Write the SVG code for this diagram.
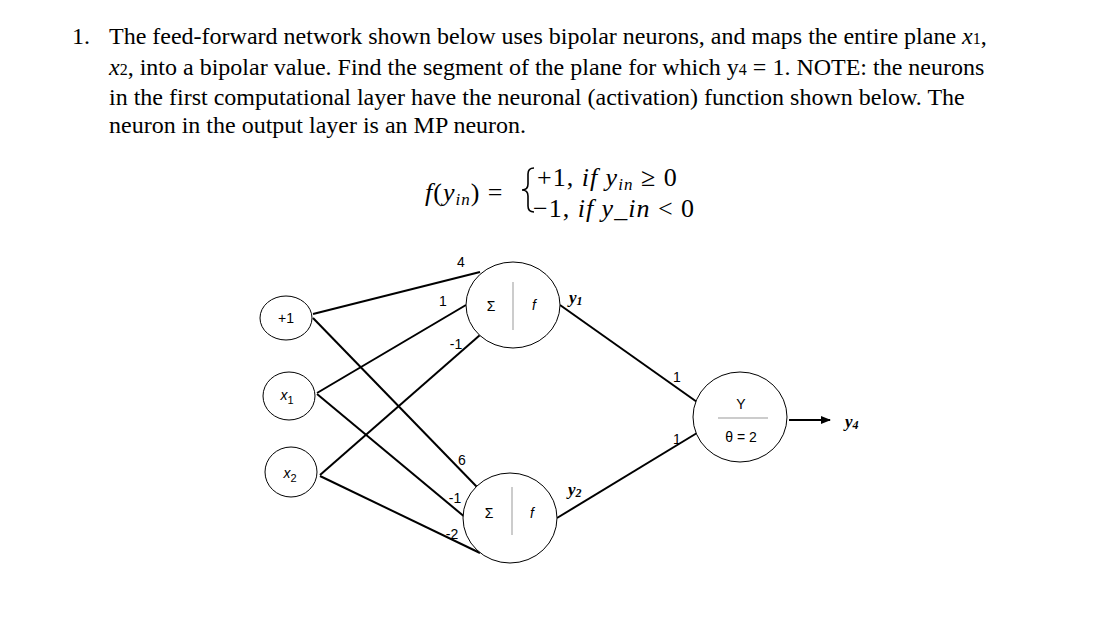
<svg xmlns="http://www.w3.org/2000/svg" width="1095" height="624" viewBox="0 0 1095 624">
<defs>
<style>
.t{font-family:"Liberation Serif",serif;font-size:24px;fill:#000}
.m{font-family:"Liberation Serif",serif;font-size:26px;font-style:italic;fill:#000}
.s{font-family:"Liberation Sans",sans-serif;font-size:14px;fill:#000;text-anchor:middle}
.n{fill:#fff;stroke:#000;stroke-width:1}
.c line{stroke:#000;stroke-width:2}
.d{stroke:#999;stroke-width:1}
</style>
<marker id="ah" markerWidth="10" markerHeight="8" refX="9" refY="4" orient="auto" markerUnits="userSpaceOnUse"><path d="M0,0L10,4L0,8z" fill="#000"/></marker>
</defs>
<rect width="1095" height="624" fill="#fff"/>
<text class="t" x="72" y="44">1.</text>
<text class="t" x="109" y="44">The feed-forward network shown below uses bipolar neurons, and maps the entire plane <tspan font-style="italic">x</tspan><tspan font-size="16">1</tspan>,</text>
<text class="t" x="109" y="75"><tspan font-style="italic">x</tspan><tspan font-size="16">2</tspan>, into a bipolar value. Find the segment of the plane for which y<tspan font-size="16">4</tspan> = 1. NOTE: the neurons</text>
<text class="t" x="109" y="105">in the first computational layer have the neuronal (activation) function shown below. The</text>
<text class="t" x="109" y="133">neuron in the output layer is an MP neuron.</text>
<text class="m" x="425" y="201" letter-spacing="1">f<tspan font-style="normal">(</tspan>y<tspan font-size="17" dy="4">in</tspan><tspan font-style="normal" dy="-4">) =</tspan></text>
<path d="M534,168 q-6,0 -6,6 v10 q0,6 -6,6 q6,0 6,6 v10 q0,6 6,6" fill="none" stroke="#000" stroke-width="1.6"/>
<text class="m" x="537" y="186" letter-spacing="1"><tspan font-style="normal">+1,</tspan> if  y<tspan font-size="17" dy="4">in</tspan><tspan font-style="normal" dy="-4"> ≥ 0</tspan></text>
<text class="m" x="533" y="217" letter-spacing="1"><tspan font-style="normal">−1,</tspan> if  y_in <tspan font-style="normal">&lt; 0</tspan></text>
<g class="c" id="connectors">
<line x1="313" y1="314" x2="480" y2="272"/>
<line x1="313" y1="318" x2="477" y2="487"/>
<line x1="317" y1="393" x2="466" y2="305"/>
<line x1="317" y1="394" x2="466" y2="518"/>
<line x1="320" y1="475" x2="480" y2="335"/>
<line x1="320" y1="476" x2="480" y2="553"/>
<line x1="560" y1="305" x2="697" y2="402"/>
<line x1="557" y1="518" x2="697" y2="433"/>
<line x1="789" y1="420" x2="830" y2="420" marker-end="url(#ah)"/>
</g>
<g class="s">
<text x="461" y="267">4</text>
<text x="443" y="306">1</text>
<text x="456" y="349">-1</text>
<text x="462" y="465">6</text>
<text x="455" y="503">-1</text>
<text x="452" y="539">-2</text>
<text x="677" y="382">1</text>
<text x="677" y="444">1</text>
</g>
<g id="n_plus1"><ellipse class="n" cx="286" cy="318" rx="26" ry="22"/><text class="s" x="286" y="323">+1</text></g>
<g id="n_x1"><ellipse class="n" cx="289" cy="396" rx="26" ry="24"/><text class="s" x="287" y="400" font-style="italic">x<tspan font-size="11" dy="4" font-style="normal">1</tspan></text></g>
<g id="n_x2"><ellipse class="n" cx="291" cy="472" rx="26" ry="25"/><text class="s" x="290" y="478" font-style="italic">x<tspan font-size="11" dy="4" font-style="normal">2</tspan></text></g>
<g id="n_h1"><ellipse class="n" cx="513" cy="305" rx="47" ry="43"/><line class="d" x1="513" y1="282" x2="513" y2="330"/><text class="s" x="491" y="311" font-family="Liberation Serif" font-size="17">Σ</text><text class="s" x="534" y="310" font-family="Liberation Serif" font-style="italic" font-size="18">f</text></g>
<g id="n_h2"><ellipse class="n" cx="510" cy="518" rx="47" ry="45"/><line class="d" x1="512" y1="487" x2="512" y2="535"/><text class="s" x="489" y="518" font-family="Liberation Serif" font-size="17">Σ</text><text class="s" x="532" y="518" font-family="Liberation Serif" font-style="italic" font-size="18">f</text></g>
<g id="n_out"><ellipse class="n" cx="740" cy="417" rx="47" ry="45"/><line class="d" x1="718" y1="418" x2="768" y2="418"/><text class="s" x="741" y="409">Y</text><text class="s" x="741" y="442">θ = 2</text></g>
<g font-family="Liberation Serif,serif" font-style="italic" font-weight="bold" font-size="17">
<text x="569" y="303">y<tspan font-size="12" dy="2">1</tspan></text>
<text x="568" y="495">y<tspan font-size="12" dy="2">2</tspan></text>
<text x="845" y="427">y<tspan font-size="12" dy="2">4</tspan></text>
</g>
</svg>
